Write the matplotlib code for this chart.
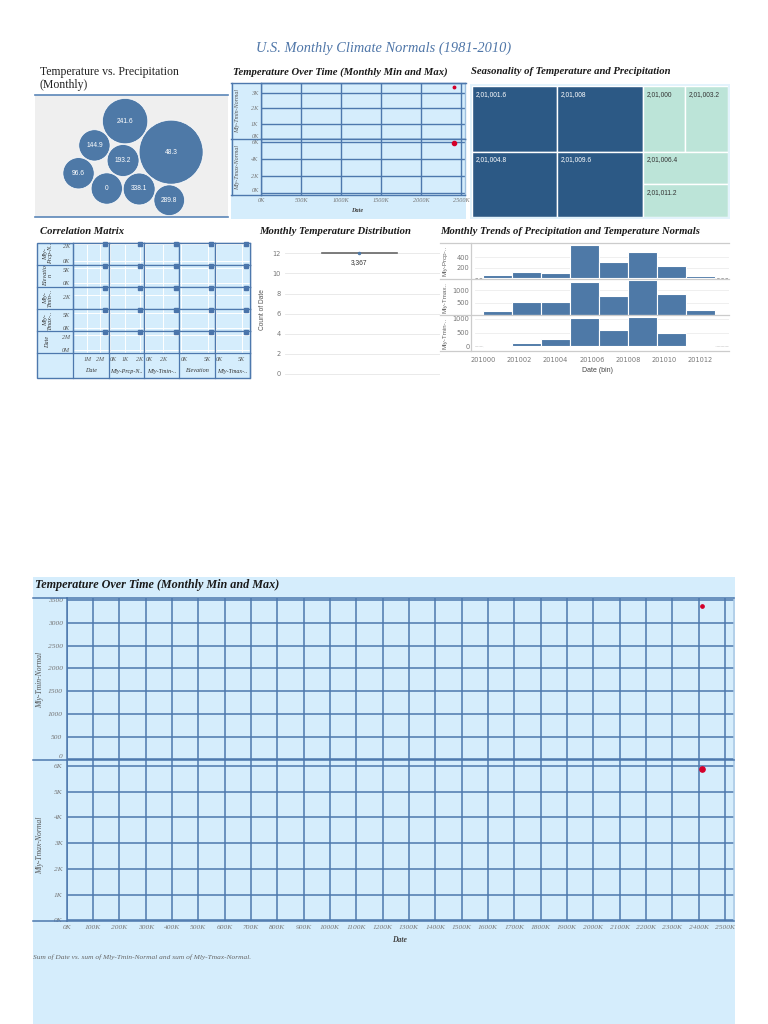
import numpy as np
import matplotlib
matplotlib.use("Agg")
import matplotlib.pyplot as plt
from matplotlib.patches import Rectangle, Circle
from matplotlib.lines import Line2D

# ---------------- data ----------------
months = [201001, 201002, 201003, 201004, 201005, 201006,
          201007, 201008, 201009, 201010, 201011, 201012]
bin_starts = [201000.0, 201001.6, 201003.2, 201004.8, 201006.4, 201008.0, 201009.6, 201011.2]
bin_width = 1.6
prcp_bin = [52, 110, 90, 635, 313, 494, 237, 44]
tmax_bin = [170, 525, 525, 1320, 766, 1400, 845, 210]
tmin_bin = [-20, 100, 259, 1037, 581, 1074, 470, -15]
hist_xticks = [201000, 201002, 201004, 201006, 201008, 201010, 201012]

bubble_labels = ['48.3', '241.6', '193.2', '338.1', '0', '144.9', '96.6', '289.8']
bubble_sizes = [4.1, 2.06, 1.02, 1.02, 0.98, 0.98, 0.98, 0.94]

sum_date = 2412078
sum_tmin = 3367
sum_tmax = 5890
sum_prcp = 2050
sum_elev = 5600
date_count = 12
dist_bin_width = 480

corr_names = ['Date', 'Mly-Prcp-N..', 'Mly-Tmin-..', 'Elevation', 'Mly-Tmax-..']
corr_sums = [sum_date, sum_prcp, sum_tmin, sum_elev, sum_tmax]
corr_col_ticks = [[1e6, 2e6], [0, 1000, 2000], [0, 2000], [0, 5000], [0, 5000]]
corr_row_order = [1, 3, 2, 4, 0]
corr_row_names = ['Mly-\nPrcp-N..', 'Elevatio\nn', 'Mly-\nTmin-..', 'Mly-\nTmax-..', 'Date']
corr_row_ticks = [[0, 2000], [0, 5000], [2000], [0, 5000], [0, 2e6]]

# ---------------- styles ----------------
W, H = 768, 1024
SERIF = 'Liberation Serif'
SANS = 'Liberation Sans'
GRID = '#4d78ad'
PANEL = '#d5edfc'
BAR = '#4e79a7'
RED = '#d4002a'
TITLE_FS = 7.7

fig = plt.figure(figsize=(W / 100, H / 100), dpi=100)
fig.patch.set_facecolor('white')


def add_ax(x0, y0, x1, y1):
    return fig.add_axes([x0 / W, 1 - y1 / H, (x1 - x0) / W, (y1 - y0) / H])


def ftext(x, y, s, **kw):
    return fig.text(x / W, 1 - y / H, s, **kw)


def fline(x0, y0, x1, y1, **kw):
    fig.add_artist(Line2D([x0 / W, x1 / W], [1 - y0 / H, 1 - y1 / H], **kw))


def frect(x0, y0, x1, y1, **kw):
    fig.add_artist(Rectangle((x0 / W, 1 - y1 / H), (x1 - x0) / W, (y1 - y0) / H,
                             transform=fig.transFigure, **kw))


def kfmt(v, unit=1000, suf='K'):
    return '%d%s' % (round(v / unit), suf)


def indian(v):
    s = '%.1f' % v
    ip, dp = s.split('.')
    last3, rest = ip[-3:], ip[:-3]
    groups = []
    while len(rest) > 2:
        groups.insert(0, rest[-2:])
        rest = rest[:-2]
    if rest:
        groups.insert(0, rest)
    out = ','.join(groups + [last3])
    if dp != '0':
        out += '.' + dp
    return out


def italic_ticks(ax):
    for t in ax.get_yticklabels() + ax.get_xticklabels():
        t.set_family(SERIF)
        t.set_style('italic')


title_kw = dict(family=SERIF, style='italic', weight='bold', color='#1a1a1a')

# main title
ftext(384, 48, 'U.S. Monthly Climate Normals (1981-2010)', ha='center', va='center',
      family=SERIF, style='italic', fontsize=10.4, color='#4f76a8')

# ---------------- bubble chart ----------------
ftext(40, 66, 'Temperature vs. Precipitation\n(Monthly)', ha='left', va='top',
      family=SERIF, fontsize=8.5, color='#222222', linespacing=1.15)
frect(35, 95, 228, 217, facecolor='#efefef', edgecolor='none', zorder=0)
fline(35, 95, 228, 95, color='#5b86b8', lw=1.2)
fline(35, 217, 228, 217, color='#5b86b8', lw=1.2)


def tangent_points(p0, r0, p1, r1):
    d = np.linalg.norm(p1 - p0)
    if d == 0 or d > r0 + r1 or d < abs(r0 - r1):
        return []
    a = (r0 ** 2 - r1 ** 2 + d ** 2) / (2 * d)
    h = np.sqrt(max(r0 ** 2 - a ** 2, 0))
    m = p0 + a * (p1 - p0) / d
    perp = np.array([-(p1 - p0)[1], (p1 - p0)[0]]) / d
    return [m + h * perp, m - h * perp]


def pack(radii, gap=0.8, start_angle=146, target=(-40, -10)):
    # greedy packing: biggest first, second at a fixed angle, rest closest to target
    order = sorted(range(len(radii)), key=lambda i: -radii[i])
    target = np.array(target, dtype=float)
    c = {order[0]: np.array([0.0, 0.0])}
    d = radii[order[0]] + radii[order[1]] + gap
    ang = np.deg2rad(start_angle)
    c[order[1]] = np.array([d * np.cos(ang), d * np.sin(ang)])
    for i in order[2:]:
        r = radii[i] + gap
        placed = list(c.keys())
        best, best_d = None, 1e18
        for a in range(len(placed)):
            for b in range(a + 1, len(placed)):
                ja, jb = placed[a], placed[b]
                for p in tangent_points(c[ja], radii[ja] + r, c[jb], radii[jb] + r):
                    if all(np.linalg.norm(p - c[k]) >= radii[k] + r - 1e-6 for k in placed):
                        dd = np.linalg.norm(p - target)
                        if dd < best_d:
                            best, best_d = p, dd
        c[i] = best
    return [c[i] for i in range(len(radii))]


radii = [15.8 * np.sqrt(s) for s in bubble_sizes]
centers = pack(radii)
xs = [p[0] for p in centers]
ys = [p[1] for p in centers]
cx = (min(x - r for x, r in zip(xs, radii)) + max(x + r for x, r in zip(xs, radii))) / 2
cy = (min(y - r for y, r in zip(ys, radii)) + max(y + r for y, r in zip(ys, radii))) / 2
axb = add_ax(35, 95, 228, 217)
axb.set_xlim(0, 193)
axb.set_ylim(0, 122)
axb.axis('off')
for lab, p, r in zip(bubble_labels, centers, radii):
    x, y = p[0] - cx + 98, p[1] - cy + 60
    axb.add_patch(Circle((x, y), r, facecolor=BAR, edgecolor='white', lw=0.5, clip_on=False))
    axb.text(x, y, lab, ha='center', va='center', color='white', fontsize=4.8, family=SANS)

# ---------------- small time chart ----------------
ftext(233, 72, 'Temperature Over Time (Monthly Min and Max)', ha='left', va='center',
      fontsize=TITLE_FS, **title_kw)
frect(231, 83, 466, 219, facecolor=PANEL, edgecolor='none', zorder=0)
fline(231, 83.3, 466, 83.3, color=GRID, lw=1.0)
fline(231, 139, 261.3, 139, color=GRID, lw=1.0)
fline(231, 195, 261.3, 195, color=GRID, lw=1.0)
fline(231.5, 83, 231.5, 195, color=GRID, lw=1.0)

s1 = add_ax(261.3, 83.3, 465, 139)
s2 = add_ax(261.3, 139, 465, 195)
for ax, ylim, yt in [(s1, (0, 3620), [0, 1000, 2000, 3000]),
                     (s2, (-200, 6350), [0, 2000, 4000, 6000])]:
    ax.set_facecolor(PANEL)
    ax.set_xlim(0, 2546000)
    ax.set_ylim(*ylim)
    ax.set_xticks(np.arange(0, 2500001, 500000))
    ax.set_yticks(yt)
    ax.set_yticklabels([kfmt(v) for v in yt])
    ax.grid(True, color=GRID, lw=1.0)
    ax.set_axisbelow(True)
    ax.tick_params(length=0, labelsize=4.5, labelcolor='#777777', pad=2)
    for sp in ax.spines.values():
        sp.set_color(GRID)
        sp.set_linewidth(1.0)
    ax.spines['right'].set_color('#9fc0de')
s1.set_xticklabels([])
s2.set_xticklabels([kfmt(v) for v in np.arange(0, 2500001, 500000)])
italic_ticks(s1)
italic_ticks(s2)
s1.get_yticklabels()[0].set_va('bottom')
s2.get_yticklabels()[0].set_va('bottom')
s1.plot(sum_date, sum_tmin, 'o', color=RED, ms=1.8, clip_on=False)
s2.plot(sum_date, sum_tmax, 'o', color=RED, ms=3.0, clip_on=False)
ftext(357, 211, 'Date', ha='center', va='center', family=SERIF, style='italic',
      weight='bold', fontsize=4.5, color='#444444')
ftext(237.5, 111, 'Mly-Tmin-Normal', rotation=90, ha='center', va='center',
      family=SERIF, style='italic', fontsize=4.3, color='#555555')
ftext(237.5, 167, 'Mly-Tmax-Normal', rotation=90, ha='center', va='center',
      family=SERIF, style='italic', fontsize=4.3, color='#555555')

# ---------------- treemap ----------------
ftext(471, 72, 'Seasonality of Temperature and Precipitation', ha='left', va='center',
      fontsize=TITLE_FS, **title_kw)
counts = [sum(1 for m in months if b <= m < b + bin_width) for b in bin_starts]
order = sorted(range(len(bin_starts)), key=lambda i: (-counts[i], bin_starts[i]))
tree_layout = [[0, 1], [2, 3], [[4, 5], 6, 7]]


def weight(node):
    if isinstance(node, int):
        return counts[order[node]]
    return sum(weight(n) for n in node)


def layout(node, x0, y0, x1, y1, depth, out):
    if isinstance(node, int):
        out[node] = (x0, y0, x1, y1)
        return
    tot = weight(node)
    pos = x0 if depth % 2 == 0 else y0
    for n in node:
        frac = weight(n) / tot
        if depth % 2 == 0:
            end = pos + (x1 - x0) * frac
            layout(n, pos, y0, end, y1, depth + 1, out)
        else:
            end = pos + (y1 - y0) * frac
            layout(n, x0, pos, x1, end, depth + 1, out)
        pos = end


rects = {}
layout(tree_layout, 0, 0, 1, 1, 0, rects)
frect(469.5, 84, 729.5, 219, facecolor='#e3f3fc', edgecolor='none', zorder=0)
axt = add_ax(471.7, 86, 728, 217.3)
axt.set_xlim(0, 1)
axt.set_ylim(1, 0)
axt.axis('off')
cmax = max(counts)
for k, (x0, y0, x1, y1) in rects.items():
    i = order[k]
    dark = counts[i] == cmax
    axt.add_patch(Rectangle((x0, y0), x1 - x0, y1 - y0, facecolor='#2c5985' if dark else '#bce4d8',
                            edgecolor='white', lw=1.0))
    axt.text(x0 + 0.015, y0 + 0.035, indian(bin_starts[i]), ha='left', va='top', fontsize=4.8,
             family=SANS, color='white' if dark else '#333333')

# ---------------- correlation matrix ----------------
ftext(40, 232, 'Correlation Matrix', ha='left', va='center', fontsize=TITLE_FS, **title_kw)
mx0, mx1, my0, my1 = 37.3, 250, 242.7, 378.3
hx = 73.3
fy_ = 353.3
frect(mx0, my0, mx1, my1, facecolor=PANEL, edgecolor=GRID, lw=1.0, zorder=0)
n = len(corr_names)
cw = (mx1 - hx) / n
rh = (fy_ - my0) / n
for r in range(n):
    rv = corr_row_order[r]
    for c in range(n):
        ax = add_ax(hx + c * cw, my0 + r * rh, hx + (c + 1) * cw, my0 + (r + 1) * rh)
        ax.set_facecolor(PANEL)
        ax.set_xlim(-0.05 * corr_sums[c], corr_sums[c] * 1.12)
        ax.set_ylim(-0.2 * corr_sums[rv], corr_sums[rv] * 1.05)
        ax.set_xticks(corr_col_ticks[c])
        ax.set_yticks(corr_row_ticks[r])
        ax.grid(True, color='white', lw=0.7)
        ax.set_axisbelow(True)
        ax.tick_params(length=0, labelsize=4.3, labelcolor='#555555', pad=2.5)
        for sp in ax.spines.values():
            sp.set_color(GRID)
            sp.set_linewidth(0.9)
        unit, suf = (1e6, 'M') if corr_names[c] == 'Date' else (1000, 'K')
        if r == n - 1:
            ax.set_xticklabels([kfmt(v, unit, suf) for v in corr_col_ticks[c]])
            for v, t in zip(corr_col_ticks[c], ax.get_xticklabels()):
                if v == 0:
                    t.set_ha('left')
        else:
            ax.set_xticklabels([])
        unit, suf = (1e6, 'M') if corr_names[rv] == 'Date' else (1000, 'K')
        if c == 0:
            ax.set_yticklabels([kfmt(v, unit, suf) for v in corr_row_ticks[r]])
            for v, t in zip(corr_row_ticks[r], ax.get_yticklabels()):
                if v > 0:
                    t.set_va('top')
        else:
            ax.set_yticklabels([])
        italic_ticks(ax)
        ax.plot(corr_sums[c], corr_sums[rv], 's', ms=2.7, color='#4a74aa', clip_on=False)
    ftext(48, my0 + (r + 0.5) * rh, corr_row_names[r], rotation=90, ha='center', va='center',
          family=SERIF, style='italic', fontsize=4.5, color='#333333', linespacing=0.95)
    fline(mx0, my0 + (r + 1) * rh, hx, my0 + (r + 1) * rh, color=GRID, lw=0.9)
for c in range(n):
    ftext(hx + (c + 0.5) * cw, 371, corr_names[c], ha='center', va='center',
          family=SERIF, style='italic', fontsize=4.4, color='#333333')
    fline(hx + (c + 1) * cw, fy_, hx + (c + 1) * cw, my1, color=GRID, lw=0.9)
fline(hx, my0, hx, my1, color=GRID, lw=0.9)

# ---------------- distribution ----------------
ftext(259, 232, 'Monthly Temperature Distribution', ha='left', va='center', fontsize=TITLE_FS,
      **title_kw)
axd = add_ax(285, 245, 440, 378)
axd.set_xlim(sum_tmin - 475, sum_tmin + 516)
axd.set_ylim(-0.4, 12.83)
axd.set_yticks(range(0, 13, 2))
axd.set_xticks([])
axd.grid(True, axis='y', color='#e6e6e6', lw=0.6)
axd.tick_params(length=0, labelsize=4.8, labelcolor='#777777', pad=3)
for sp in axd.spines.values():
    sp.set_visible(False)
axd.plot([sum_tmin - dist_bin_width / 2, sum_tmin + dist_bin_width / 2], [date_count, date_count],
         color='#666666', lw=1.2)
axd.plot(sum_tmin, date_count, 'o', color=BAR, ms=1.5)
axd.annotate(format(sum_tmin, ','), (sum_tmin, date_count), xytext=(0, -6.5), textcoords='offset points',
             ha='center', va='center', fontsize=4.8, color='#333333', family=SANS)
ftext(262, 310, 'Count of Date', rotation=90, ha='center', va='center', fontsize=4.8,
      family=SANS, color='#555555')

# ---------------- monthly trends histograms ----------------
ftext(440, 232, 'Monthly Trends of Precipitation and Temperature Normals', ha='left', va='center',
      fontsize=TITLE_FS, **title_kw)
panels = [(prcp_bin, 'Mly-Prcp-..', 243.3, 279.3, (-25, 667), [200, 400]),
          (tmax_bin, 'Mly-Tmax..', 279.3, 315, (0, 1430), [500, 1000]),
          (tmin_bin, 'Mly-Tmin-..', 315, 351, (-185, 1148), [0, 500, 1000])]
xl = (201000 - 8.3 / 18.1, 201000 + (729 - 483.3) / 18.1)
for k, (vals, name, y0, y1, yl, yt) in enumerate(panels):
    ax = add_ax(475, y0, 729, y1)
    ax.bar(bin_starts, vals, width=bin_width, align='edge', color=BAR, edgecolor='white', lw=0.8)
    ax.set_xlim(*xl)
    ax.set_ylim(*yl)
    ax.set_yticks(yt)
    ax.grid(True, axis='y', color='#ececec', lw=0.6)
    ax.set_axisbelow(True)
    ax.axhline(0, color='#999999', lw=0.6, ls=(0, (3, 2)), zorder=0.5)
    ax.tick_params(length=0, labelsize=4.8, labelcolor='#777777', pad=4)
    ax.set_facecolor('none')
    for sp in ax.spines.values():
        sp.set_visible(False)
    if k == 2:
        ax.set_xticks(hist_xticks)
        ax.set_xticklabels([str(v) for v in hist_xticks])
        ax.tick_params(axis='x', pad=4)
    else:
        ax.set_xticks([])
    fline(440, y0, 729, y0, color='#cccccc', lw=0.9)
    ftext(444.5, (y0 + y1) / 2, name, rotation=90, ha='center', va='center', fontsize=4.5,
          family=SANS, color='#666666')
fline(440, 351, 729, 351, color='#cccccc', lw=0.9)
fline(471, 243.3, 471, 351, color='#cccccc', lw=0.9)
ftext(598, 371, 'Date (bin)', ha='center', va='center', fontsize=5, family=SANS, color='#444444')

# ---------------- big time chart ----------------
frect(33, 577, 735, 1024, facecolor=PANEL, edgecolor='none', zorder=0)
ftext(35, 585, 'Temperature Over Time (Monthly Min and Max)', ha='left', va='center',
      fontsize=8.7, **title_kw)
b1 = add_ax(66.7, 597.7, 734, 760)
b2 = add_ax(66.7, 760, 734, 921)
xt = np.arange(0, 2500001, 100000)
for ax, ylim, yt, lab in [(b1, (-13, 3550), np.arange(0, 3501, 500), [str(v) for v in range(0, 3501, 500)]),
                          (b2, (-27, 6237), np.arange(0, 6001, 1000), [kfmt(v) for v in range(0, 6001, 1000)])]:
    ax.set_facecolor(PANEL)
    ax.set_xlim(0, 2534000)
    ax.set_ylim(*ylim)
    ax.set_xticks(xt)
    ax.set_yticks(yt)
    ax.set_yticklabels(lab)
    ax.grid(True, color=GRID, lw=1.1)
    ax.set_axisbelow(True)
    ax.tick_params(length=0, labelsize=5.3, labelcolor='#777777', pad=3)
    for sp in ax.spines.values():
        sp.set_color(GRID)
        sp.set_linewidth(1.1)
    ax.spines['right'].set_color('#a9c8e4')
b1.set_xticklabels([])
b2.set_xticklabels([kfmt(v) for v in xt])
italic_ticks(b1)
italic_ticks(b2)
b1.get_yticklabels()[0].set_va('bottom')
b1.plot(sum_date, sum_tmin, 'o', color=RED, ms=2.4, clip_on=False)
b2.plot(sum_date, sum_tmax, 'o', color=RED, ms=3.8, clip_on=False)
fline(33, 597.7, 66.7, 597.7, color=GRID, lw=1.1)
fline(33, 760, 66.7, 760, color=GRID, lw=1.1)
fline(33, 921, 66.7, 921, color=GRID, lw=1.1)
ftext(400, 940, 'Date', ha='center', va='center', family=SERIF, style='italic', weight='bold',
      fontsize=5.5, color='#444444')
ftext(40, 680, 'Mly-Tmin-Normal', rotation=90, ha='center', va='center', family=SERIF,
      style='italic', fontsize=5.5, color='#555555')
ftext(40, 845, 'Mly-Tmax-Normal', rotation=90, ha='center', va='center', family=SERIF,
      style='italic', fontsize=5.5, color='#555555')
ftext(33, 957, 'Sum of Date vs. sum of Mly-Tmin-Normal and sum of Mly-Tmax-Normal.', ha='left',
      va='center', family=SERIF, style='italic', fontsize=5.3, color='#666666')

fig.savefig('out.png', dpi=100)
